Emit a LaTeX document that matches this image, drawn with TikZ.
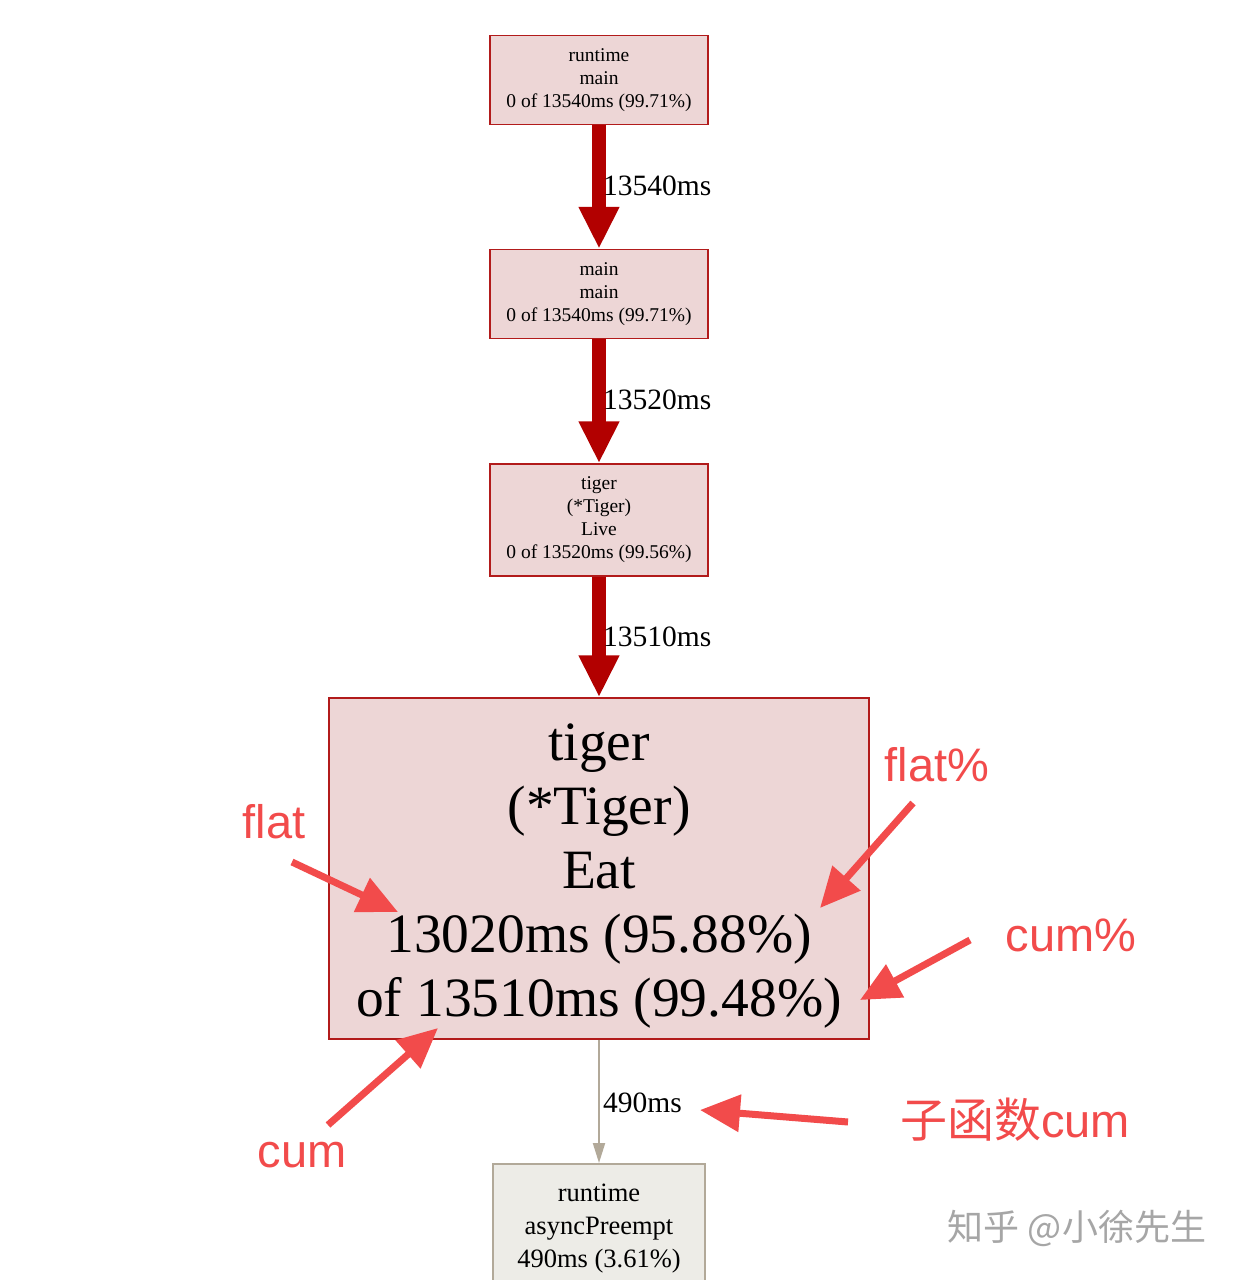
\documentclass[tikz,border=0pt]{standalone}
\usepackage{fontspec}
\setmainfont{Liberation Serif}
\setsansfont{Liberation Sans}
\newfontfamily\cjk{Noto Sans CJK SC}
\usetikzlibrary{arrows.meta}
\definecolor{boxfill}{HTML}{EDD6D6}
\definecolor{boxline}{HTML}{B21B1B}
\definecolor{edgered}{HTML}{B20000}
\definecolor{graybox}{HTML}{EDECE7}
\definecolor{grayline}{HTML}{B2A999}
\definecolor{annot}{HTML}{F24B4B}
\begin{document}
\begin{tikzpicture}[x=1pt,y=-1pt,
  smallbox/.style={draw=boxline,fill=boxfill,line width=1.5pt,minimum width=218pt,align=center,inner sep=0pt,font=\fontsize{19.5}{23}\selectfont},
  hot/.style={draw=edgered,line width=14pt,-{Triangle[length=42pt,width=38pt]}},
  elabel/.style={anchor=west,font=\fontsize{29.5}{32}\selectfont,inner sep=0pt},
  note/.style={text=annot,font=\sffamily\fontsize{47}{50}\selectfont,inner sep=0pt},
  notearrow/.style={draw=annot,line width=7pt,-{Triangle[length=40pt,width=36pt]}}]
\useasboundingbox (0,0) rectangle (1242,1280);
\fill[white] (0,0) rectangle (1242,1280);
\node[smallbox,minimum height=89pt] (n1) at (599,80) {runtime\\main\\0 of 13540ms (99.71\%)};
\node[smallbox,minimum height=89pt] (n2) at (599,294) {main\\main\\0 of 13540ms (99.71\%)};
\node[smallbox,minimum height=112pt] (n3) at (599,520) {tiger\\(*Tiger)\\Live\\0 of 13520ms (99.56\%)};
\node[draw=boxline,fill=boxfill,line width=1.5pt,minimum width=540pt,minimum height=341pt,align=center,inner sep=0pt,font=\fontsize{55.5}{64}\selectfont] (n4) at (599,868.5) {};
\node[align=center,inner sep=0pt,font=\fontsize{55.5}{64}\selectfont] (t4) at (599,876) {tiger\\(*Tiger)\\Eat\\13020ms (95.88\%)\\of 13510ms (99.48\%)};
\node[draw=grayline,fill=graybox,line width=1.5pt,minimum width=212pt,minimum height=130pt,align=center,inner sep=0pt,anchor=north,font=\fontsize{26.5}{33}\selectfont] (n5) at (599,1163) {runtime\\asyncPreempt\\490ms (3.61\%)};
\draw[hot] (n1) -- (n2);
\draw[hot] (n2) -- (n3);
\draw[hot] (n3) -- (n4);
\draw[draw=grayline,line width=2pt,-{Triangle[length=20pt,width=12pt]}] (n4.south) -- (n5.north);
\node[elabel] (l1) at (603,186) {13540ms};
\node[elabel] (l2) at (603,400) {13520ms};
\node[elabel] (l3) at (603,637) {13510ms};
\node[elabel] (l4) at (603,1103) {490ms};
\node[note] (flat) at (274,822) {flat};
\node[note] (flatp) at (937,765) {flat\%};
\node[note] (cump) at (1071,935) {cum\%};
\node[note] (cum) at (302,1155) {cum};
\node[note] (sub) at (1015,1120) {{\cjk 子函数}\sffamily cum};
\node[text=gray!70,font=\fontsize{36}{40}\selectfont\cjk,inner sep=0pt] (wm) at (1077,1228) {知乎 @小徐先生};
\coordinate (a1s) at (292,862); \coordinate (a1e) at (398,912);
\coordinate (a2s) at (913,803); \coordinate (a2e) at (820,908);
\coordinate (a3s) at (970,940); \coordinate (a3e) at (860,1000);
\coordinate (a4s) at (328,1125); \coordinate (a4e) at (438,1028);
\coordinate (a5s) at (848,1122); \coordinate (a5e) at (700,1110);
\draw[notearrow] (a1s) -- (a1e);
\draw[notearrow] (a2s) -- (a2e);
\draw[notearrow] (a3s) -- (a3e);
\draw[notearrow] (a4s) -- (a4e);
\draw[notearrow] (a5s) -- (a5e);
\end{tikzpicture}
\end{document}
